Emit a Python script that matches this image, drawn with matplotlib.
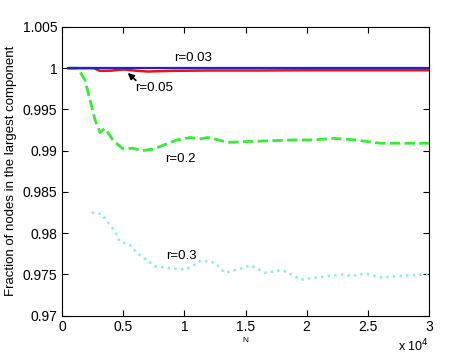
import matplotlib
matplotlib.use("Agg")
import matplotlib.pyplot as plt

plt.rcParams['font.family'] = ['Liberation Sans', 'DejaVu Sans']

# r = 0.03 (blue, solid)
n_03 = [500, 5000, 10000, 15000, 20000, 25000, 30000]
f_03 = [1.0, 1.0, 1.0, 1.0, 1.0, 1.0, 1.0]

# r = 0.05 (red, solid)
n_05 = [500, 2600, 3100, 4000, 5000, 6000, 7000, 9000, 12000, 16000, 20000, 25000, 30000]
f_05 = [1.0, 1.0, 0.99968, 0.99970, 0.99985, 0.99970, 0.99960, 0.99968, 0.99972, 0.99972, 0.99975, 0.99975, 0.99975]

# r = 0.2 (green, dashed)
n_2 = [500, 1300, 1880, 2290, 2700, 3100, 3500, 4200, 5000, 5800, 6500, 7500, 8500, 9400,
       10500, 11200, 11900, 12800, 13500, 15000, 17000, 19000, 20500, 22200, 24000,
       26000, 28000, 30000]
f_2 = [1.0, 1.0, 0.9985, 0.9961, 0.9937, 0.9922, 0.9927, 0.9912, 0.9902, 0.9903, 0.9900,
       0.9902, 0.9908, 0.9913, 0.9916, 0.9914, 0.9916, 0.9913, 0.9910, 0.9911,
       0.9912, 0.9913, 0.9913, 0.9915, 0.9913, 0.9909, 0.9909, 0.9909]

# r = 0.3 (cyan, dotted)
n_3 = [2430, 3240, 4330, 4700, 5500, 6300, 7600, 8400, 9700, 10400, 11400, 12500,
       13300, 14400, 15400, 16600, 18000, 18500, 19500, 20700, 22900, 23700, 24800,
       26200, 27500, 29900]
f_3 = [0.9825, 0.9823, 0.9802, 0.9790, 0.9786, 0.9774, 0.9760, 0.9758, 0.9756,
       0.9758, 0.9767, 0.9764, 0.9752, 0.9756, 0.9761, 0.9752, 0.9755, 0.9752,
       0.97435, 0.9746, 0.9750, 0.9748, 0.9751, 0.9746, 0.9748, 0.9750]

xticks = [0, 5000, 10000, 15000, 20000, 25000, 30000]
xtick_labels = ['0', '0.5', '1', '1.5', '2', '2.5', '3']
yticks = [0.97, 0.975, 0.98, 0.985, 0.99, 0.995, 1.0, 1.005]
ytick_labels = ['0.97', '0.975', '0.98', '0.985', '0.99', '0.995', '1', '1.005']

fig = plt.figure(figsize=(4.74, 3.55), dpi=100)
ax = fig.add_axes([0.131, 0.111, 0.774, 0.813])

ax.plot(n_2, f_2, color='#33ee33', linestyle='--', linewidth=2)
ax.plot(n_3, f_3, color='#88eeee', linestyle=':', linewidth=1.8)
ax.plot(n_05, f_05, color='#ee1111', linewidth=1.8)
ax.plot(n_03, f_03, color='#2222cc', linewidth=1.6)

ax.set_xlim(0, 30000)
ax.set_ylim(0.97, 1.005)
ax.set_xticks(xticks)
ax.set_xticklabels(xtick_labels)
ax.set_yticks(yticks)
ax.set_yticklabels(ytick_labels)
ax.tick_params(direction='in', top=True, right=True, labelsize=10, length=4)

ax.set_ylabel('Fraction of nodes in the largest component', fontsize=9.5)
ax.set_xlabel('N', fontsize=6, labelpad=2)
ax.text(1.0, -0.075, r'x 10$^4$', transform=ax.transAxes, ha='right', va='top', fontsize=9)

ax.text(9200, 1.0012, 'r=0.03', fontsize=9.5, ha='left', va='center')
ax.text(6000, 0.99763, 'r=0.05', fontsize=9.5, ha='left', va='center')
ax.annotate('', xy=(5200, 0.99965), xytext=(6200, 0.9983),
            arrowprops=dict(arrowstyle='-|>', color='black', lw=1.2, mutation_scale=9))
ax.text(8400, 0.9890, 'r=0.2', fontsize=9.5, ha='left', va='center')
ax.text(8500, 0.9772, 'r=0.3', fontsize=9.5, ha='left', va='center')

fig.savefig('out.png', dpi=100)
